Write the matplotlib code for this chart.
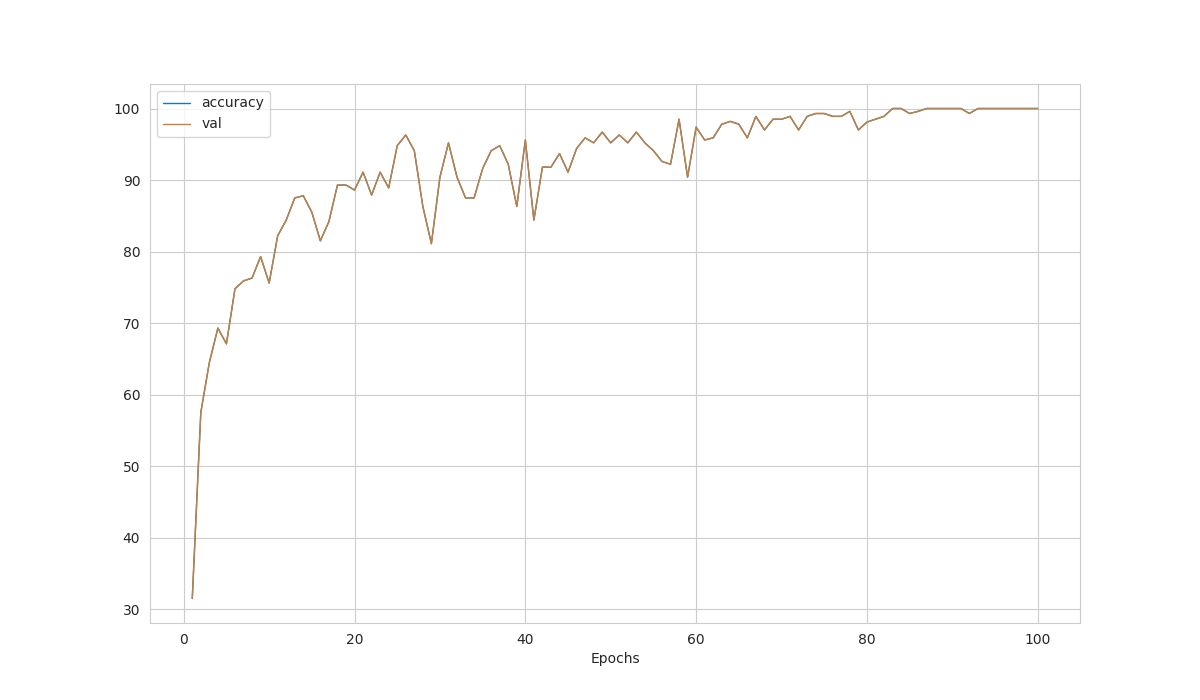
import matplotlib
matplotlib.use("Agg")
import matplotlib.pyplot as plt
import seaborn as sns

sns.set_style("whitegrid")

epochs = list(range(1, 101))
accuracy = [
    31.5, 57.5, 64.5, 69.3, 67.1, 74.8, 75.9, 76.3, 79.3, 75.6,
    82.2, 84.4, 87.5, 87.8, 85.5, 81.5, 84.2, 89.3, 89.3, 88.6,
    91.1, 87.9, 91.1, 88.9, 94.8, 96.3, 94.1, 86.3, 81.1, 90.4,
    95.2, 90.4, 87.5, 87.5, 91.6, 94.1, 94.8, 92.2, 86.3, 95.6,
    84.4, 91.8, 91.8, 93.7, 91.1, 94.4, 95.9, 95.2, 96.7, 95.2,
    96.3, 95.2, 96.7, 95.2, 94.1, 92.6, 92.2, 98.5, 90.4, 97.4,
    95.6, 95.9, 97.8, 98.2, 97.8, 95.9, 98.9, 97.0, 98.5, 98.5,
    98.9, 97.0, 98.9, 99.3, 99.3, 98.9, 98.9, 99.6, 97.0, 98.1,
    98.5, 98.9, 100.0, 100.0, 99.3, 99.6, 100.0, 100.0, 100.0, 100.0,
    100.0, 99.3, 100.0, 100.0, 100.0, 100.0, 100.0, 100.0, 100.0, 100.0,
]
val = list(accuracy)

fig, ax = plt.subplots(figsize=(12, 7), dpi=100)
ax.plot(epochs, accuracy, color="#1f77b4", linewidth=1, label="accuracy")
ax.plot(epochs, val, color="#c87f3a", linewidth=1, label="val")
ax.set_xlabel("Epochs")
ax.legend(loc="upper left")

fig.savefig("out.png", dpi=100)
